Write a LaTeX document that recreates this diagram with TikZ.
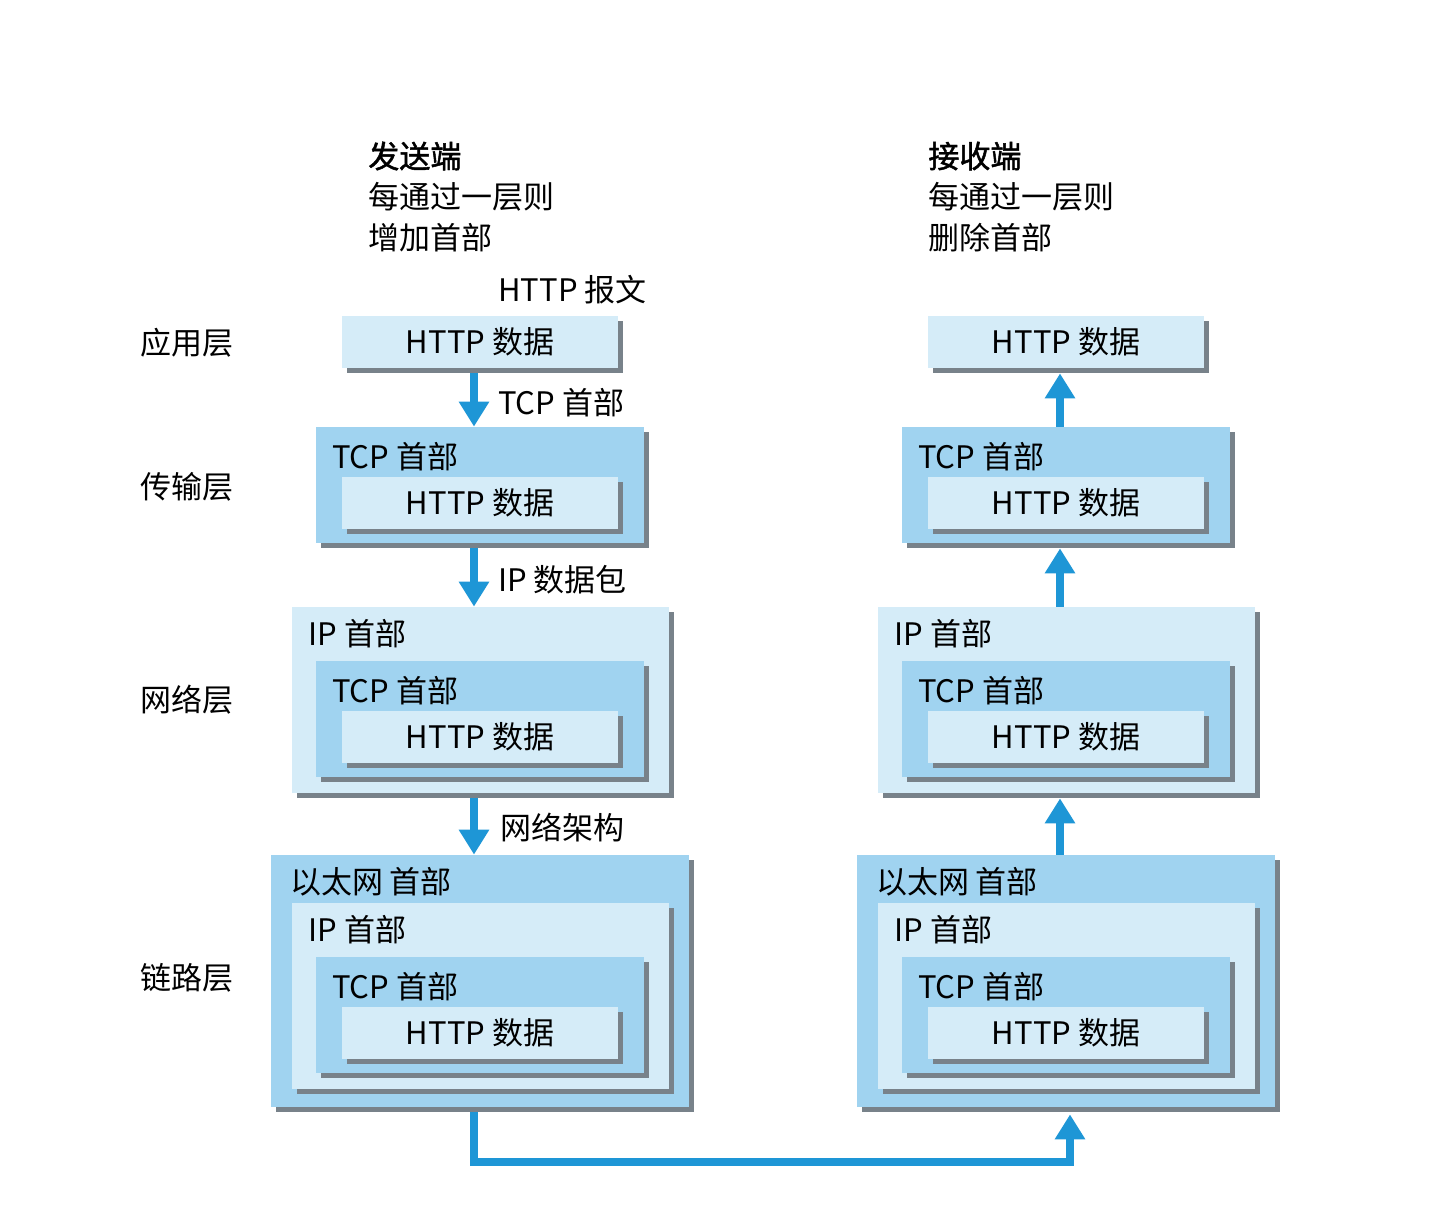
\documentclass[tikz,border=0pt]{standalone}
\usepackage{fontspec}
\setmainfont{Noto Sans CJK SC}[BoldFont={Noto Sans CJK SC},BoldFeatures={FakeBold=1.5}]
\usetikzlibrary{calc,shadows,arrows.meta}
\definecolor{boxlight}{HTML}{D5ECF8}
\definecolor{boxdark}{HTML}{A0D3F0}
\definecolor{shadegray}{HTML}{78828A}
\definecolor{flowblue}{HTML}{1E96D6}
\newcommand*{\px}{0.5pt}
\tikzset{
	packet/.style n args={3}{
		rectangle,
		fill = #1,
		minimum width = #2*\px,
		minimum height = #3*\px,
		inner sep = 0pt,
		drop shadow = {shadow xshift=2.5pt, shadow yshift=-2.5pt, fill=shadegray, opacity=1},
		},
	flow/.style={
		draw = flowblue,
		line width = 4pt,
		-{Triangle[width=14.5pt,length=12.5pt]},
		},
	tag/.style={
		inner sep = 0pt,
		anchor = west,
		},
	}

\begin{document}
\begin{tikzpicture}[x=\px, y=-\px, font=\fontsize{15.5}{20}\selectfont]
	\useasboundingbox (0,0) rectangle (1450,1210);
	% layer names
	\node (l-app) [tag] at (140,343) {应用层};
	\node (l-tcp) [tag] at (140,487) {传输层};
	\node (l-ip)  [tag] at (140,700) {网络层};
	\node (l-eth) [tag] at (140,978) {链路层};
	% column heads
	\node (s-head) [tag, align=left, font=\fontsize{15.5}{20.5}\selectfont] at (368,197) {\textbf{发送端}\\每通过一层则\\增加首部};
	\node (r-head) [tag, align=left, font=\fontsize{15.5}{20.5}\selectfont] at (928,197) {\textbf{接收端}\\每通过一层则\\删除首部};
	\node (s-msg)  [tag] at (498,290) {HTTP 报文};
	% the same packets in both columns
	\foreach \c/\x in {s/480, r/1066} {
		\node (\c-app)      [packet={boxlight}{276}{52}]  at (\x,342)  {HTTP 数据};
		\node (\c-tcp)      [packet={boxdark}{328}{116}]  at (\x,485)  {};
		\node (\c-tcp-http) [packet={boxlight}{276}{52}]  at (\x,503)  {HTTP 数据};
		\node (\c-ip)       [packet={boxlight}{377}{186}] at (\x,700)  {};
		\node (\c-ip-tcp)   [packet={boxdark}{328}{116}]  at (\x,719)  {};
		\node (\c-ip-http)  [packet={boxlight}{276}{52}]  at (\x,737)  {HTTP 数据};
		\node (\c-eth)      [packet={boxdark}{418}{252}]  at (\x,981)  {};
		\node (\c-eth-ip)   [packet={boxlight}{377}{186}] at (\x,996)  {};
		\node (\c-eth-tcp)  [packet={boxdark}{328}{116}]  at (\x,1015) {};
		\node (\c-eth-http) [packet={boxlight}{276}{52}]  at (\x,1033) {HTTP 数据};
		% header names
		\node (\c-tcp-hd)     [tag] at ($(\c-tcp.north west)+(16,30)$)     {TCP 首部};
		\node (\c-ip-hd)      [tag] at ($(\c-ip.north west)+(17,27)$)      {IP 首部};
		\node (\c-ip-tcp-hd)  [tag] at ($(\c-ip-tcp.north west)+(16,30)$)  {TCP 首部};
		\node (\c-eth-hd)     [tag] at ($(\c-eth.north west)+(19,27)$)     {以太网 首部};
		\node (\c-eth-ip-hd)  [tag] at ($(\c-eth-ip.north west)+(17,27)$)  {IP 首部};
		\node (\c-eth-tcp-hd) [tag] at ($(\c-eth-tcp.north west)+(16,30)$) {TCP 首部};
	};
	% sending side goes down
	\coordinate (sx) at (474,0);
	\draw [flow, shorten <=2.5pt] (s-app.south -| sx) -- node (f-tcp) [tag, right=10pt, yshift=-2.5pt] {TCP 首部} (s-tcp.north -| sx);
	\draw [flow, shorten <=2.5pt] (s-tcp.south -| sx) -- node (f-ip)  [tag, right=10pt, yshift=-2.5pt] {IP 数据包} (s-ip.north -| sx);
	\draw [flow, shorten <=2.5pt] (s-ip.south -| sx)  -- node (f-eth) [tag, right=11pt, yshift=-2pt] {网络架构} (s-eth.north -| sx);
	% receiving side goes up
	\coordinate (rx) at (1060,0);
	\draw [flow, shorten >=2.5pt] (r-tcp.north -| rx) -- (r-app.south -| rx);
	\draw [flow, shorten >=2.5pt] (r-ip.north -| rx)  -- (r-tcp.south -| rx);
	\draw [flow, shorten >=2.5pt] (r-eth.north -| rx) -- (r-ip.south -| rx);
	% across the wire
	\coordinate (bend) at (1070,1162);
	\draw [flow, shorten <=2.5pt, shorten >=3.5pt] (s-eth.south -| sx) |- (bend) -- (r-eth.south -| bend);
\end{tikzpicture}
\end{document}
